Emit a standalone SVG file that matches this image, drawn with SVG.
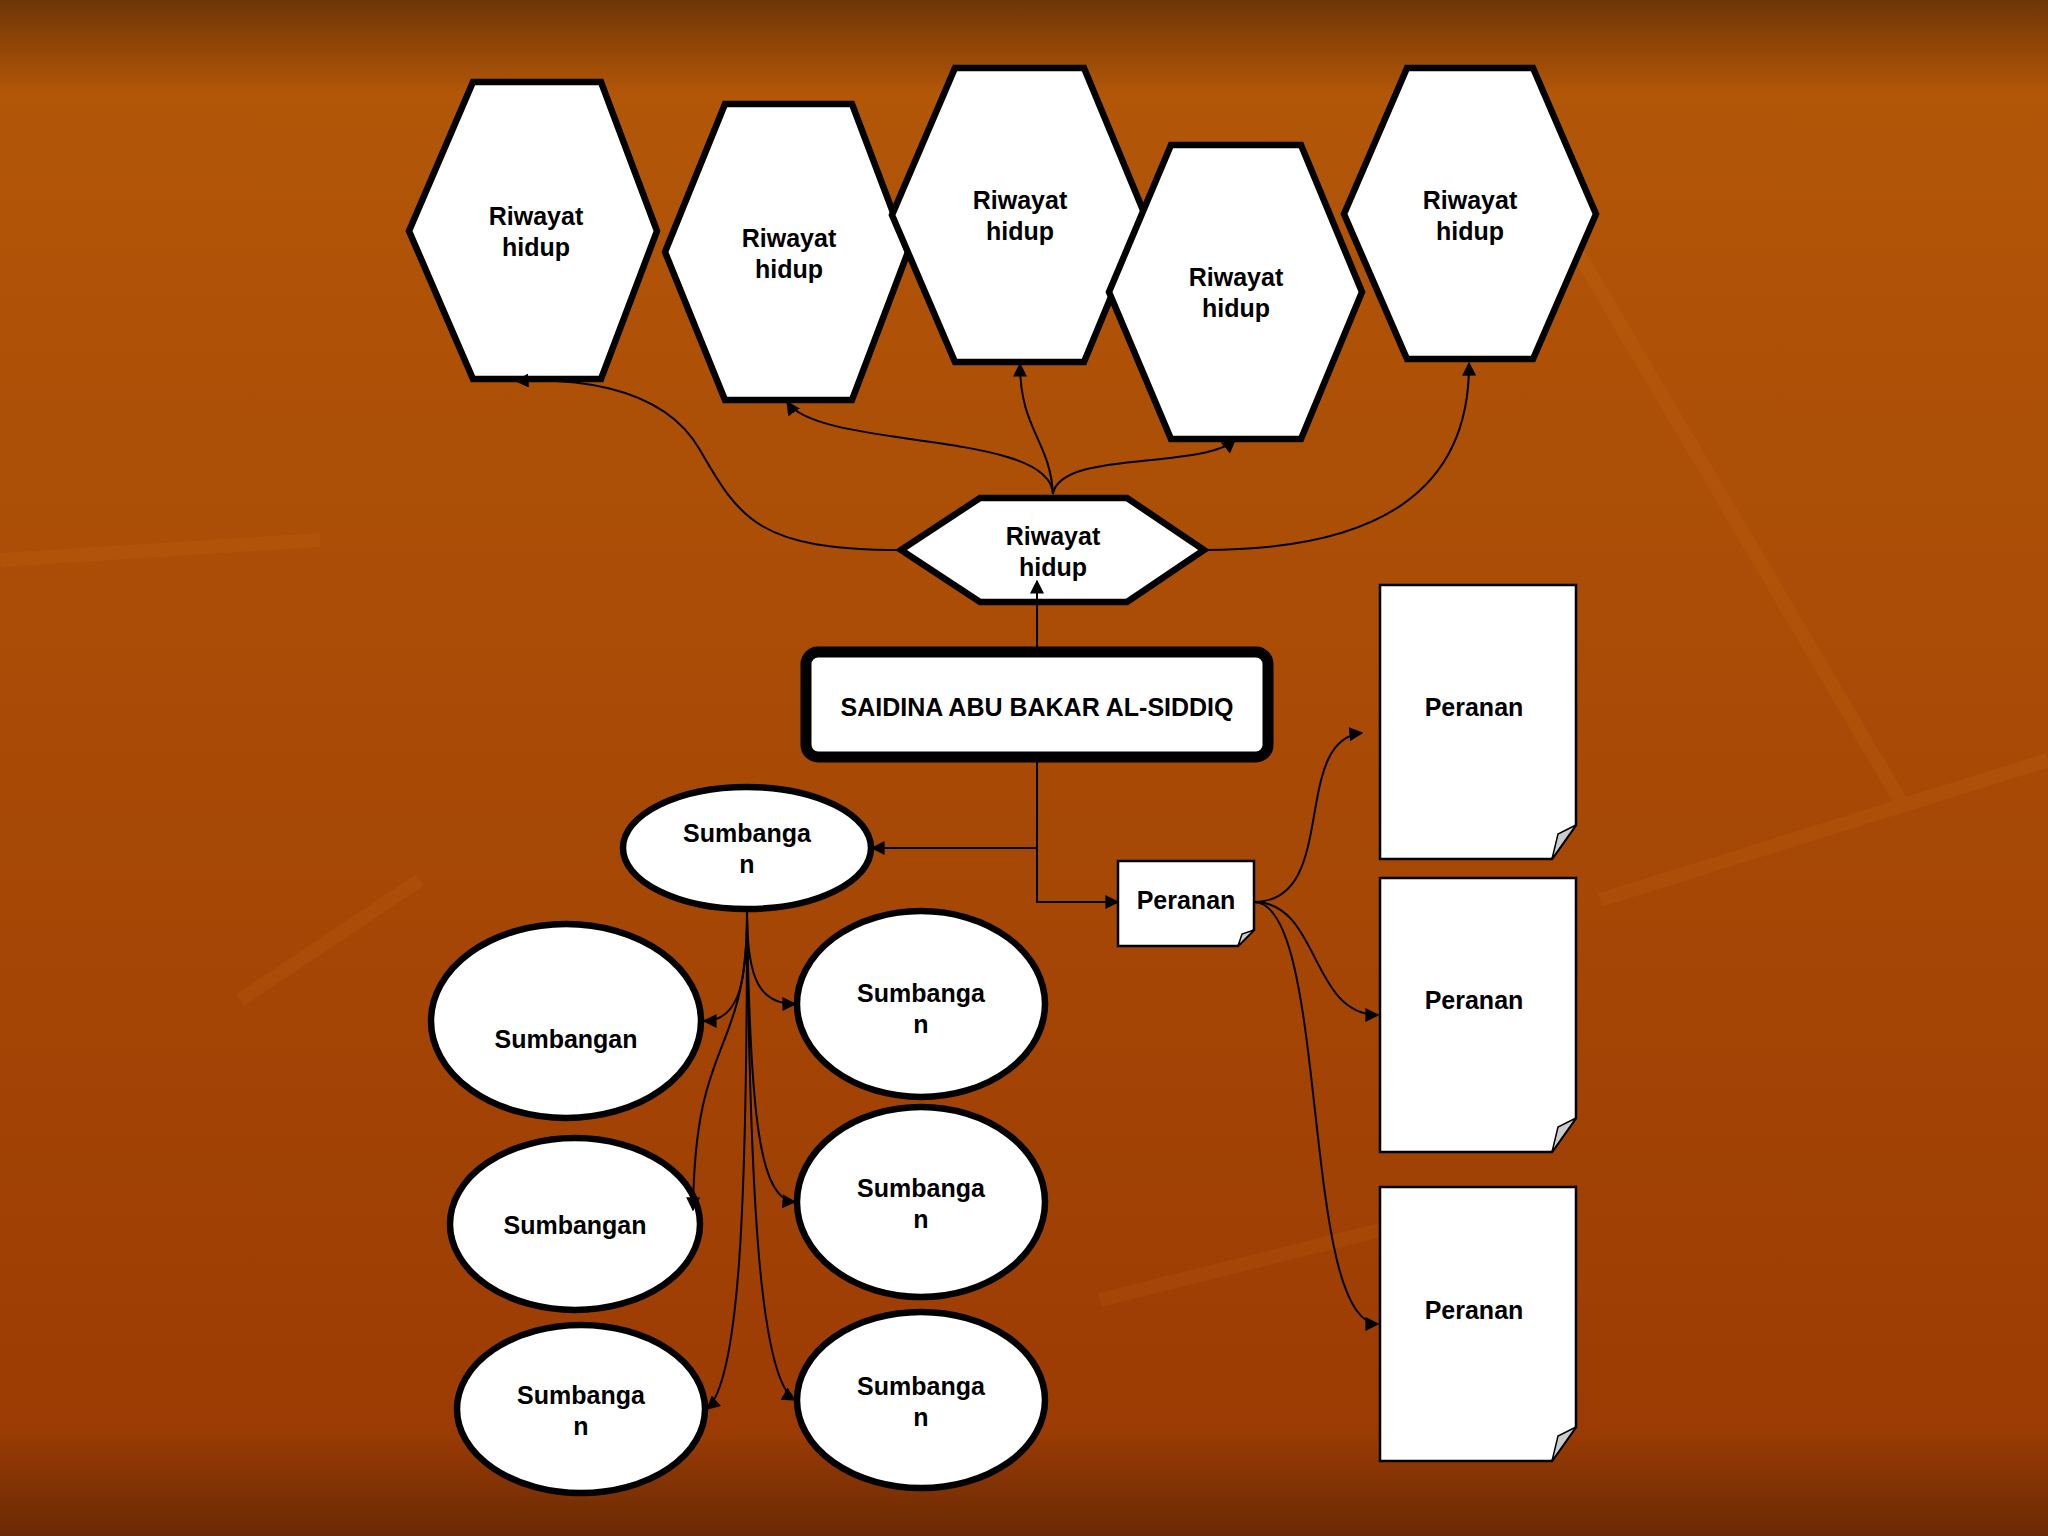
<svg xmlns="http://www.w3.org/2000/svg" width="2048" height="1536" viewBox="0 0 2048 1536">
<defs>
<linearGradient id="bg" x1="0" y1="0" x2="0" y2="1">
<stop offset="0" stop-color="#6e3606"/><stop offset="0.06" stop-color="#b25608"/><stop offset="0.5" stop-color="#a84a06"/><stop offset="0.93" stop-color="#9c3c04"/><stop offset="1" stop-color="#6a2a04"/>
</linearGradient>
<marker id="ah" viewBox="0 0 10 10" refX="9" refY="5" markerWidth="7" markerHeight="7" orient="auto"><path d="M0,0L10,5L0,10z" fill="#000"/></marker>
</defs>
<style>
.n{fill:#fff;stroke:#000;stroke-width:6.5}
.d{fill:#fff;stroke:#000;stroke-width:2.5}
.t{font-family:"Liberation Sans",Arial,sans-serif;font-weight:bold;font-size:25px;fill:#000;text-anchor:middle}
.c{fill:none;stroke:#000;stroke-width:2;marker-end:url(#ah)}
</style>
<rect width="2048" height="1536" fill="url(#bg)"/>
<g opacity="0.1" fill="none" stroke="#e08a2a" stroke-width="14">
<path d="M0,560 L320,540 M1500,120 L1900,800 M1600,900 L2048,760 M240,1000 L420,880 M1100,1300 L1500,1200"/>
</g>
<g id="h1"><polygon class="n" points="409,231 473,82 601,82 657,231 601,379 473,379"/><text class="t" x="536" y="225">Riwayat</text><text class="t" x="536" y="256">hidup</text></g>
<g id="h2"><polygon class="n" points="665,252 725,104 852,104 908,252 852,400 725,400"/><text class="t" x="789" y="247">Riwayat</text><text class="t" x="789" y="278">hidup</text></g>
<g id="h3"><polygon class="n" points="892,215 955,68 1084,68 1145,215 1084,362 955,362"/><text class="t" x="1020" y="209">Riwayat</text><text class="t" x="1020" y="240">hidup</text></g>
<g id="h4"><polygon class="n" points="1109,292 1171,145 1301,145 1362,292 1301,439 1171,439"/><text class="t" x="1236" y="286">Riwayat</text><text class="t" x="1236" y="317">hidup</text></g>
<g id="h5"><polygon class="n" points="1344,214 1407,68 1533,68 1596,214 1533,359 1407,359"/><text class="t" x="1470" y="209">Riwayat</text><text class="t" x="1470" y="240">hidup</text></g>
<g id="hc"><polygon class="n" points="901,550 980,498 1127,498 1204,550 1127,602 980,602"/><text class="t" x="1053" y="545">Riwayat</text><text class="t" x="1053" y="576">hidup</text></g>
<g id="main"><rect x="806" y="652" width="462" height="105" rx="12" fill="#fff" stroke="#000" stroke-width="11"/><text class="t" x="1037" y="716">SAIDINA ABU BAKAR AL-SIDDIQ</text></g>
<g id="s0"><ellipse class="n" cx="747" cy="848" rx="124" ry="61"/><text class="t" x="747" y="842">Sumbanga</text><text class="t" x="747" y="873">n</text></g>
<g id="s1"><ellipse class="n" cx="566" cy="1021" rx="135" ry="97"/><text class="t" x="566" y="1048">Sumbangan</text></g>
<g id="s2"><ellipse class="n" cx="575" cy="1224" rx="125" ry="86"/><text class="t" x="575" y="1234">Sumbangan</text></g>
<g id="s3"><ellipse class="n" cx="581" cy="1409" rx="124" ry="84"/><text class="t" x="581" y="1404">Sumbanga</text><text class="t" x="581" y="1435">n</text></g>
<g id="s4"><ellipse class="n" cx="921" cy="1004" rx="124" ry="93"/><text class="t" x="921" y="1002">Sumbanga</text><text class="t" x="921" y="1033">n</text></g>
<g id="s5"><ellipse class="n" cx="921" cy="1202" rx="124" ry="95"/><text class="t" x="921" y="1197">Sumbanga</text><text class="t" x="921" y="1228">n</text></g>
<g id="s6"><ellipse class="n" cx="921" cy="1400" rx="124" ry="88"/><text class="t" x="921" y="1395">Sumbanga</text><text class="t" x="921" y="1426">n</text></g>
<g id="p0"><path class="d" d="M1118,861 H1254 V930 L1238,946 H1118 Z"/><path d="M1238,946 L1242,934 L1254,930 Z" fill="#ccc" stroke="#000" stroke-width="1.5"/><text class="t" x="1186" y="909">Peranan</text></g>
<g id="p1"><path class="d" d="M1380,585 H1576 V825 L1552,859 H1380 Z"/><path d="M1552,859 L1558,834 L1576,825 Z" fill="#ccc" stroke="#000" stroke-width="1.5"/><text class="t" x="1474" y="716">Peranan</text></g>
<g id="p2"><path class="d" d="M1380,878 H1576 V1118 L1552,1152 H1380 Z"/><path d="M1552,1152 L1558,1127 L1576,1118 Z" fill="#ccc" stroke="#000" stroke-width="1.5"/><text class="t" x="1474" y="1009">Peranan</text></g>
<g id="p3"><path class="d" d="M1380,1187 H1576 V1427 L1552,1461 H1380 Z"/><path d="M1552,1461 L1558,1436 L1576,1427 Z" fill="#ccc" stroke="#000" stroke-width="1.5"/><text class="t" x="1474" y="1319">Peranan</text></g>
<g id="connectors">
<path class="c" d="M901,550 C760,550 740,520 700,450 C660,380 560,379 516,381"/>
<path class="c" d="M1053,494 C1050,430 820,450 787,402"/>
<path class="c" d="M1053,494 C1050,440 1020,430 1020,364"/>
<path class="c" d="M1053,494 C1060,450 1200,470 1235,440"/>
<path class="c" d="M1204,550 C1380,550 1470,490 1469,363"/>
<path class="c" d="M1037,648 L1037,581"/>
<path class="c" d="M1037,761 L1037,848 L872,848"/>
<path class="c" d="M1037,848 L1037,902 L1118,902"/>
<path class="c" d="M747,912 C747,980 740,1021 704,1021"/>
<path class="c" d="M747,912 C747,980 760,1004 795,1004"/>
<path class="c" d="M747,912 C747,1060 695,1030 693,1210"/>
<path class="c" d="M747,912 C750,1120 760,1200 795,1202"/>
<path class="c" d="M747,912 C747,1200 740,1380 707,1409"/>
<path class="c" d="M747,912 C750,1200 760,1380 795,1400"/>
<path class="c" d="M1254,902 C1340,902 1290,740 1362,733"/>
<path class="c" d="M1254,902 C1320,902 1310,1015 1378,1015"/>
<path class="c" d="M1254,902 C1330,902 1300,1324 1378,1324"/>
</g>
</svg>
